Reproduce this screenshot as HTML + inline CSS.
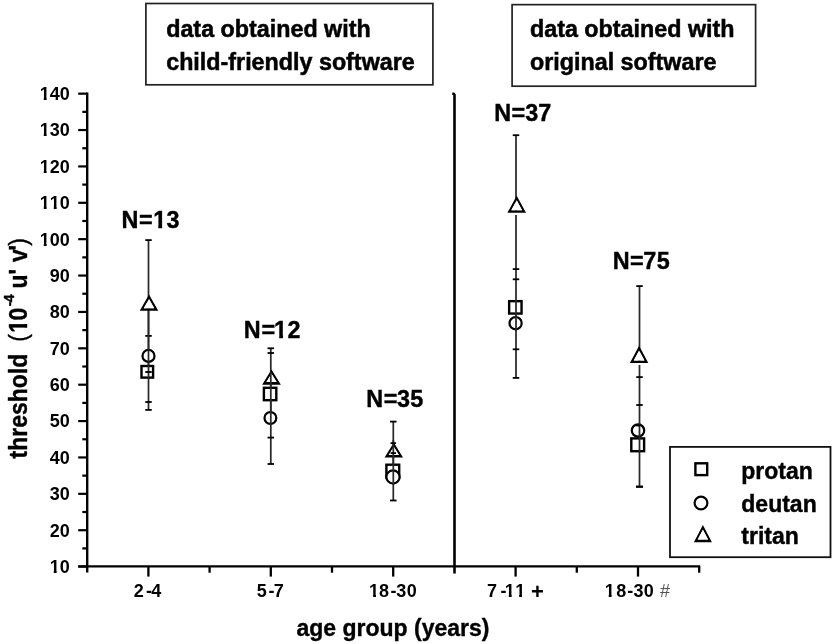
<!DOCTYPE html>
<html><head><meta charset="utf-8"><title>threshold by age group</title>
<style>
html,body{margin:0;padding:0;background:#fff;}
body{width:834px;height:644px;overflow:hidden;}
svg{display:block;}
text{font-family:"Liberation Sans",Arial,sans-serif;font-weight:bold;fill:#000;}
.tl{font-size:18px;}
.ttl{font-size:23px;stroke:#000;stroke-width:0.35px;}
.bx{font-size:23.3px;stroke:#000;stroke-width:0.5px;}
.nl{font-size:23.4px;stroke:#000;stroke-width:0.4px;}
.lg{font-size:23px;stroke:#000;stroke-width:0.4px;}
.sup{font-size:14px;}
.rg{font-weight:normal;}
.hash{font-weight:normal;fill:#555;}
</style></head>
<body>
<svg width="834" height="644" viewBox="0 0 834 644">
<defs><clipPath id="k1" clipPathUnits="userSpaceOnUse"><rect x="-2000" y="519.00" width="5000" height="52.00"/><rect x="53.78" y="555.00" width="2.87" height="27.00"/><rect x="60.25" y="570.16" width="9.06" height="13.64"/></clipPath><clipPath id="k2" clipPathUnits="userSpaceOnUse"><rect x="-2000" y="482.62" width="5000" height="51.38"/><rect x="50.15" y="533.78" width="9.17" height="13.64"/><rect x="60.25" y="533.78" width="9.06" height="13.64"/></clipPath><clipPath id="k3" clipPathUnits="userSpaceOnUse"><rect x="-2000" y="446.24" width="5000" height="51.76"/><rect x="49.94" y="497.40" width="9.45" height="13.64"/><rect x="60.25" y="497.40" width="9.06" height="13.64"/></clipPath><clipPath id="k4" clipPathUnits="userSpaceOnUse"><rect x="-2000" y="409.86" width="5000" height="52.14"/><rect x="49.80" y="461.02" width="10.14" height="13.64"/><rect x="60.25" y="461.02" width="9.06" height="13.64"/></clipPath><clipPath id="k5" clipPathUnits="userSpaceOnUse"><rect x="-2000" y="373.48" width="5000" height="51.52"/><rect x="50.08" y="424.64" width="9.46" height="13.64"/><rect x="60.25" y="424.64" width="9.06" height="13.64"/></clipPath><clipPath id="k6" clipPathUnits="userSpaceOnUse"><rect x="-2000" y="337.10" width="5000" height="51.90"/><rect x="50.19" y="388.26" width="9.20" height="13.64"/><rect x="60.25" y="388.26" width="9.06" height="13.64"/></clipPath><clipPath id="k7" clipPathUnits="userSpaceOnUse"><rect x="-2000" y="300.72" width="5000" height="51.28"/><rect x="50.30" y="351.88" width="8.95" height="13.64"/><rect x="60.25" y="351.88" width="9.06" height="13.64"/></clipPath><clipPath id="k8" clipPathUnits="userSpaceOnUse"><rect x="-2000" y="264.34" width="5000" height="51.66"/><rect x="50.10" y="315.50" width="9.39" height="13.64"/><rect x="60.25" y="315.50" width="9.06" height="13.64"/></clipPath><clipPath id="k9" clipPathUnits="userSpaceOnUse"><rect x="-2000" y="227.96" width="5000" height="52.04"/><rect x="50.15" y="279.12" width="9.22" height="13.64"/><rect x="60.25" y="279.12" width="9.06" height="13.64"/></clipPath><clipPath id="k10" clipPathUnits="userSpaceOnUse"><rect x="-2000" y="191.58" width="5000" height="51.42"/><rect x="43.77" y="227.58" width="2.87" height="27.00"/><rect x="50.24" y="242.74" width="9.06" height="13.64"/><rect x="60.25" y="242.74" width="9.06" height="13.64"/></clipPath><clipPath id="k11" clipPathUnits="userSpaceOnUse"><rect x="-2000" y="155.20" width="5000" height="51.80"/><rect x="43.77" y="191.20" width="2.87" height="27.00"/><rect x="53.78" y="191.20" width="2.87" height="27.00"/><rect x="60.25" y="206.36" width="9.06" height="13.64"/></clipPath><clipPath id="k12" clipPathUnits="userSpaceOnUse"><rect x="-2000" y="118.82" width="5000" height="51.18"/><rect x="43.77" y="154.82" width="2.87" height="27.00"/><rect x="50.15" y="169.98" width="9.17" height="13.64"/><rect x="60.25" y="169.98" width="9.06" height="13.64"/></clipPath><clipPath id="k13" clipPathUnits="userSpaceOnUse"><rect x="-2000" y="82.44" width="5000" height="51.56"/><rect x="43.77" y="118.44" width="2.87" height="27.00"/><rect x="49.94" y="133.60" width="9.45" height="13.64"/><rect x="60.25" y="133.60" width="9.06" height="13.64"/></clipPath><clipPath id="k14" clipPathUnits="userSpaceOnUse"><rect x="-2000" y="46.06" width="5000" height="51.94"/><rect x="43.77" y="82.06" width="2.87" height="27.00"/><rect x="49.80" y="97.22" width="10.14" height="13.64"/><rect x="60.25" y="97.22" width="9.06" height="13.64"/></clipPath><clipPath id="k15" clipPathUnits="userSpaceOnUse"><rect x="-2000" y="543.40" width="5000" height="51.60"/><rect x="373.10" y="579.40" width="2.87" height="27.00"/><rect x="379.31" y="594.56" width="9.39" height="13.64"/><rect x="390.86" y="594.56" width="5.07" height="13.64"/><rect x="396.33" y="594.56" width="9.45" height="13.64"/><rect x="407.27" y="594.56" width="9.06" height="13.64"/></clipPath><clipPath id="k16" clipPathUnits="userSpaceOnUse"><rect x="-2000" y="543.40" width="5000" height="51.60"/><rect x="487.63" y="594.56" width="8.95" height="13.64"/><rect x="500.86" y="594.56" width="5.07" height="13.64"/><rect x="508.80" y="579.40" width="2.87" height="27.00"/><rect x="519.15" y="579.40" width="2.87" height="27.00"/></clipPath><clipPath id="k17" clipPathUnits="userSpaceOnUse"><rect x="-2000" y="543.40" width="5000" height="51.60"/><rect x="608.75" y="579.40" width="2.87" height="27.00"/><rect x="616.51" y="594.56" width="9.39" height="13.64"/><rect x="627.71" y="594.56" width="5.07" height="13.64"/><rect x="633.78" y="594.56" width="9.45" height="13.64"/><rect x="644.32" y="594.56" width="9.06" height="13.64"/></clipPath><clipPath id="k18" clipPathUnits="userSpaceOnUse"><rect x="-2000" y="-69.00" width="5000" height="66.09"/><rect x="117.65" y="-3.35" width="6.99" height="17.15"/><rect x="130.72" y="-23.00" width="3.76" height="34.50"/><rect x="138.78" y="-3.35" width="11.44" height="17.15"/><rect x="150.12" y="-60" width="200" height="80"/><rect x="-5" y="-60" width="117.76" height="80"/></clipPath><clipPath id="k19" clipPathUnits="userSpaceOnUse"><rect x="-2000" y="157.40" width="5000" height="67.60"/><rect x="122.77" y="224.21" width="14.26" height="17.43"/><rect x="139.73" y="224.21" width="12.23" height="17.43"/><rect x="158.33" y="204.20" width="3.81" height="35.10"/><rect x="166.88" y="224.21" width="12.13" height="17.43"/></clipPath><clipPath id="k20" clipPathUnits="userSpaceOnUse"><rect x="-2000" y="267.80" width="5000" height="67.20"/><rect x="245.17" y="334.61" width="14.26" height="17.43"/><rect x="262.13" y="334.61" width="12.23" height="17.43"/><rect x="279.23" y="314.60" width="3.81" height="35.10"/><rect x="288.07" y="334.61" width="11.77" height="17.43"/></clipPath></defs>
<rect width="834" height="644" fill="#fff"/>
<line x1="87.2" y1="92.4" x2="87.2" y2="572.5" stroke="#000" stroke-width="2.4"/>
<line x1="78.2" y1="566.60" x2="87.2" y2="566.60" stroke="#000" stroke-width="2.2"/>
<text x="49.78 59.79" y="573.00" class="tl" clip-path="url(#k1)">10</text>
<line x1="82.3" y1="548.41" x2="87.2" y2="548.41" stroke="#000" stroke-width="2.2"/>
<line x1="78.2" y1="530.22" x2="87.2" y2="530.22" stroke="#000" stroke-width="2.2"/>
<text x="49.78 59.79" y="536.62" class="tl" clip-path="url(#k2)">20</text>
<line x1="82.3" y1="512.03" x2="87.2" y2="512.03" stroke="#000" stroke-width="2.2"/>
<line x1="78.2" y1="493.84" x2="87.2" y2="493.84" stroke="#000" stroke-width="2.2"/>
<text x="49.78 59.79" y="500.24" class="tl" clip-path="url(#k3)">30</text>
<line x1="82.3" y1="475.65" x2="87.2" y2="475.65" stroke="#000" stroke-width="2.2"/>
<line x1="78.2" y1="457.46" x2="87.2" y2="457.46" stroke="#000" stroke-width="2.2"/>
<text x="49.78 59.79" y="463.86" class="tl" clip-path="url(#k4)">40</text>
<line x1="82.3" y1="439.27" x2="87.2" y2="439.27" stroke="#000" stroke-width="2.2"/>
<line x1="78.2" y1="421.08" x2="87.2" y2="421.08" stroke="#000" stroke-width="2.2"/>
<text x="49.78 59.79" y="427.48" class="tl" clip-path="url(#k5)">50</text>
<line x1="82.3" y1="402.89" x2="87.2" y2="402.89" stroke="#000" stroke-width="2.2"/>
<line x1="78.2" y1="384.70" x2="87.2" y2="384.70" stroke="#000" stroke-width="2.2"/>
<text x="49.78 59.79" y="391.10" class="tl" clip-path="url(#k6)">60</text>
<line x1="82.3" y1="366.51" x2="87.2" y2="366.51" stroke="#000" stroke-width="2.2"/>
<line x1="78.2" y1="348.32" x2="87.2" y2="348.32" stroke="#000" stroke-width="2.2"/>
<text x="49.78 59.79" y="354.72" class="tl" clip-path="url(#k7)">70</text>
<line x1="82.3" y1="330.13" x2="87.2" y2="330.13" stroke="#000" stroke-width="2.2"/>
<line x1="78.2" y1="311.94" x2="87.2" y2="311.94" stroke="#000" stroke-width="2.2"/>
<text x="49.78 59.79" y="318.34" class="tl" clip-path="url(#k8)">80</text>
<line x1="82.3" y1="293.75" x2="87.2" y2="293.75" stroke="#000" stroke-width="2.2"/>
<line x1="78.2" y1="275.56" x2="87.2" y2="275.56" stroke="#000" stroke-width="2.2"/>
<text x="49.78 59.79" y="281.96" class="tl" clip-path="url(#k9)">90</text>
<line x1="82.3" y1="257.37" x2="87.2" y2="257.37" stroke="#000" stroke-width="2.2"/>
<line x1="78.2" y1="239.18" x2="87.2" y2="239.18" stroke="#000" stroke-width="2.2"/>
<text x="39.77 49.78 59.79" y="245.58" class="tl" clip-path="url(#k10)">100</text>
<line x1="82.3" y1="220.99" x2="87.2" y2="220.99" stroke="#000" stroke-width="2.2"/>
<line x1="78.2" y1="202.80" x2="87.2" y2="202.80" stroke="#000" stroke-width="2.2"/>
<text x="39.77 49.78 59.79" y="209.20" class="tl" clip-path="url(#k11)">110</text>
<line x1="82.3" y1="184.61" x2="87.2" y2="184.61" stroke="#000" stroke-width="2.2"/>
<line x1="78.2" y1="166.42" x2="87.2" y2="166.42" stroke="#000" stroke-width="2.2"/>
<text x="39.77 49.78 59.79" y="172.82" class="tl" clip-path="url(#k12)">120</text>
<line x1="82.3" y1="148.23" x2="87.2" y2="148.23" stroke="#000" stroke-width="2.2"/>
<line x1="78.2" y1="130.04" x2="87.2" y2="130.04" stroke="#000" stroke-width="2.2"/>
<text x="39.77 49.78 59.79" y="136.44" class="tl" clip-path="url(#k13)">130</text>
<line x1="82.3" y1="111.85" x2="87.2" y2="111.85" stroke="#000" stroke-width="2.2"/>
<line x1="78.2" y1="93.66" x2="87.2" y2="93.66" stroke="#000" stroke-width="2.2"/>
<text x="39.77 49.78 59.79" y="100.06" class="tl" clip-path="url(#k14)">140</text>
<line x1="78.2" y1="566.4" x2="700.2" y2="566.4" stroke="#000" stroke-width="2.4"/>
<line x1="148.40" y1="566.4" x2="148.40" y2="576.6" stroke="#000" stroke-width="2.3"/>
<line x1="209.60" y1="566.4" x2="209.60" y2="572.7" stroke="#000" stroke-width="2.3"/>
<line x1="270.80" y1="566.4" x2="270.80" y2="576.6" stroke="#000" stroke-width="2.3"/>
<line x1="332.00" y1="566.4" x2="332.00" y2="572.7" stroke="#000" stroke-width="2.3"/>
<line x1="393.20" y1="566.4" x2="393.20" y2="576.6" stroke="#000" stroke-width="2.3"/>
<line x1="515.60" y1="566.4" x2="515.60" y2="576.6" stroke="#000" stroke-width="2.3"/>
<line x1="576.80" y1="566.4" x2="576.80" y2="572.7" stroke="#000" stroke-width="2.3"/>
<line x1="638.00" y1="566.4" x2="638.00" y2="576.6" stroke="#000" stroke-width="2.3"/>
<line x1="699.20" y1="566.4" x2="699.20" y2="572.7" stroke="#000" stroke-width="2.3"/>
<path d="M452.3 93.4 L453.8 93.8 L454.5 94.8 L454.5 573.6" fill="none" stroke="#000" stroke-width="2.6"/>
<text x="133.74 145.91 151.16" y="597.4" class="tl">2-4</text>
<text x="256.77 268.56 273.85" y="597.4" class="tl">5-7</text>
<text x="369.10 378.99 390.41 396.16 406.81" y="597.4" class="tl" clip-path="url(#k15)">18-30</text>
<text x="487.10 500.41 504.80 515.15" y="597.4" class="tl" clip-path="url(#k16)">7-11</text>
<text x="604.75 616.19 627.26 633.61 643.86" y="597.4" class="tl" clip-path="url(#k17)">18-30</text>
<text x="531.11" y="598.9" style="font-size:22px">+</text>
<text x="660.05" y="597.4" class="tl hash">#</text>
<text x="393" y="636.3" class="ttl" text-anchor="middle">age group (years)</text>
<g transform="translate(27.2 458.5) rotate(-90) scale(1 1.1)">
<text class="ttl" clip-path="url(#k18)"><tspan x="0" y="0">threshold </tspan><tspan class="rg" x="116.76" y="0">(</tspan><tspan x="125.65 138.12" y="0">10</tspan><tspan class="sup" x="152.18 156.34" y="-12.3">-4</tspan><tspan x="170.12 184.00" y="0">u&#39;</tspan><tspan x="196.61" y="0"> </tspan><tspan x="196.61 208.05" y="0">v&#39;</tspan><tspan class="rg" x="212.73" y="0">)</tspan></text>
</g>
<rect x="145.9" y="3.5" width="287" height="81.3" fill="none" stroke="#222" stroke-width="1.7"/>
<text x="166.2" y="36.6" class="bx">data obtained with</text>
<text x="166.2" y="69.9" class="bx">child-friendly software</text>
<rect x="512.1" y="4.65" width="243.5" height="81.55" fill="none" stroke="#222" stroke-width="1.7"/>
<text x="530" y="36.6" class="bx">data obtained with</text>
<text x="530" y="69.9" class="bx">original software</text>
<rect x="670" y="446.9" width="160.5" height="110.3" fill="#fff" stroke="#111" stroke-width="1.8"/>
<rect x="695.40" y="463.30" width="11.80" height="11.80" fill="#fff" stroke="#000" stroke-width="2.4"/>
<circle cx="701.00" cy="503.00" r="6.40" fill="#fff" stroke="#000" stroke-width="2.2"/>
<path d="M702.90 525.00 L711.90 542.20 L693.90 542.20 Z M702.90 529.75 L708.06 539.60 L697.74 539.60 Z" fill="#000" fill-rule="evenodd"/><path d="M702.90 529.75 L708.06 539.60 L697.74 539.60 Z" fill="#fff"/>
<text x="741.3" y="478.6" class="lg">protan</text>
<text x="741.3" y="511.7" class="lg">deutan</text>
<text x="741.3" y="544.2" class="lg">tritan</text>
<text x="121.46 139.01 153.16 166.60" y="227.6" class="nl" clip-path="url(#k19)">N=13</text>
<text x="243.86 261.41 274.06 287.51" y="338.0" class="nl" clip-path="url(#k20)">N=12</text>
<text x="366.26 383.81 396.95 410.21" y="406.7" class="nl">N=35</text>
<text x="494.26 511.61 525.15 538.25" y="120.8" class="nl">N=37</text>
<text x="612.81 630.01 643.20 656.81" y="268.7" class="nl">N=75</text>
<line x1="148.50" y1="240.10" x2="148.50" y2="409.90" stroke="#2a2a2a" stroke-width="1.75"/>
<line x1="145.25" y1="240.10" x2="151.75" y2="240.10" stroke="#000" stroke-width="1.8"/>
<line x1="145.25" y1="335.90" x2="151.75" y2="335.90" stroke="#000" stroke-width="1.8"/>
<line x1="145.25" y1="402.00" x2="151.75" y2="402.00" stroke="#000" stroke-width="1.8"/>
<line x1="145.25" y1="409.90" x2="151.75" y2="409.90" stroke="#000" stroke-width="1.8"/>
<rect x="141.50" y="366.00" width="11.60" height="11.60" fill="#fff" stroke="#000" stroke-width="2.4"/>
<circle cx="148.50" cy="355.90" r="6.00" fill="#fff" stroke="#000" stroke-width="2.2"/>
<line x1="148.50" y1="300.00" x2="148.50" y2="379.00" stroke="#2a2a2a" stroke-width="1.75"/>
<line x1="145.20" y1="372.00" x2="151.80" y2="372.00" stroke="#000" stroke-width="1.8"/>
<path d="M149.00 294.40 L158.25 310.80 L139.75 310.80 Z M149.00 298.88 L154.26 308.20 L143.74 308.20 Z" fill="#000" fill-rule="evenodd"/><path d="M149.00 298.88 L154.26 308.20 L143.74 308.20 Z" fill="#fff"/>
<line x1="270.80" y1="348.30" x2="270.80" y2="464.00" stroke="#2a2a2a" stroke-width="1.75"/>
<line x1="267.55" y1="348.30" x2="274.05" y2="348.30" stroke="#000" stroke-width="1.8"/>
<line x1="267.55" y1="353.00" x2="274.05" y2="353.00" stroke="#000" stroke-width="1.8"/>
<line x1="267.55" y1="437.60" x2="274.05" y2="437.60" stroke="#000" stroke-width="1.8"/>
<line x1="267.55" y1="464.00" x2="274.05" y2="464.00" stroke="#000" stroke-width="1.8"/>
<rect x="263.90" y="387.80" width="12.40" height="12.40" fill="#fff" stroke="#000" stroke-width="2.4"/>
<circle cx="270.40" cy="418.00" r="5.90" fill="#fff" stroke="#000" stroke-width="2.2"/>
<path d="M271.50 369.60 L280.85 384.70 L262.15 384.70 Z M271.50 373.78 L276.65 382.10 L266.35 382.10 Z" fill="#000" fill-rule="evenodd"/><path d="M271.50 373.78 L276.65 382.10 L266.35 382.10 Z" fill="#fff"/>
<line x1="270.80" y1="372.00" x2="270.80" y2="425.00" stroke="#2a2a2a" stroke-width="1.75"/>
<line x1="393.30" y1="421.60" x2="393.30" y2="500.50" stroke="#2a2a2a" stroke-width="1.75"/>
<line x1="390.05" y1="421.60" x2="396.55" y2="421.60" stroke="#000" stroke-width="1.8"/>
<line x1="390.05" y1="500.50" x2="396.55" y2="500.50" stroke="#000" stroke-width="1.8"/>
<rect x="386.40" y="464.70" width="12.80" height="12.80" fill="#fff" stroke="#000" stroke-width="2.4"/>
<circle cx="393.00" cy="476.90" r="6.60" fill="#fff" stroke="#000" stroke-width="2.2"/>
<path d="M393.80 442.50 L403.00 457.60 L384.60 457.60 Z M393.80 446.73 L398.84 455.00 L388.76 455.00 Z" fill="#000" fill-rule="evenodd"/><path d="M393.80 446.73 L398.84 455.00 L388.76 455.00 Z" fill="#fff"/>
<line x1="393.30" y1="440.00" x2="393.30" y2="485.00" stroke="#2a2a2a" stroke-width="1.75"/>
<line x1="390.55" y1="443.10" x2="396.05" y2="443.10" stroke="#000" stroke-width="1.8"/>
<line x1="390.55" y1="453.10" x2="396.05" y2="453.10" stroke="#000" stroke-width="1.8"/>
<line x1="516.00" y1="135.20" x2="516.00" y2="377.90" stroke="#2a2a2a" stroke-width="1.75"/>
<line x1="512.75" y1="135.20" x2="519.25" y2="135.20" stroke="#000" stroke-width="1.8"/>
<line x1="512.75" y1="269.10" x2="519.25" y2="269.10" stroke="#000" stroke-width="1.8"/>
<line x1="512.75" y1="279.30" x2="519.25" y2="279.30" stroke="#000" stroke-width="1.8"/>
<line x1="512.75" y1="349.30" x2="519.25" y2="349.30" stroke="#000" stroke-width="1.8"/>
<line x1="512.75" y1="377.90" x2="519.25" y2="377.90" stroke="#000" stroke-width="1.8"/>
<rect x="509.15" y="301.15" width="12.40" height="12.40" fill="#fff" stroke="#000" stroke-width="2.4"/>
<circle cx="515.60" cy="323.20" r="6.10" fill="#fff" stroke="#000" stroke-width="2.2"/>
<line x1="516.00" y1="300.00" x2="516.00" y2="331.00" stroke="#2a2a2a" stroke-width="1.75"/>
<rect x="513.0" y="212" width="6" height="3" fill="#fff"/>
<path d="M516.70 195.70 L526.00 212.80 L507.40 212.80 Z M516.70 200.30 L522.08 210.20 L511.32 210.20 Z" fill="#000" fill-rule="evenodd"/><path d="M516.70 200.30 L522.08 210.20 L511.32 210.20 Z" fill="#fff"/>
<line x1="639.50" y1="286.10" x2="639.50" y2="486.70" stroke="#2a2a2a" stroke-width="1.75"/>
<line x1="636.25" y1="286.10" x2="642.75" y2="286.10" stroke="#000" stroke-width="1.8"/>
<line x1="636.25" y1="377.10" x2="642.75" y2="377.10" stroke="#000" stroke-width="1.8"/>
<line x1="636.25" y1="405.00" x2="642.75" y2="405.00" stroke="#000" stroke-width="1.8"/>
<line x1="636.00" y1="486.70" x2="643.00" y2="486.70" stroke="#000" stroke-width="2.4"/>
<circle cx="638.00" cy="430.50" r="6.20" fill="#fff" stroke="#000" stroke-width="2.2"/>
<rect x="631.30" y="438.40" width="12.80" height="12.80" fill="#fff" stroke="#000" stroke-width="2.4"/>
<line x1="639.50" y1="423.00" x2="639.50" y2="452.00" stroke="#2a2a2a" stroke-width="1.75"/>
<line x1="635.75" y1="425.50" x2="640.25" y2="425.50" stroke="#000" stroke-width="1.8"/>
<rect x="636.5" y="362" width="6" height="3" fill="#fff"/>
<path d="M639.10 345.70 L648.30 363.10 L629.90 363.10 Z M639.10 350.41 L644.44 360.50 L633.76 360.50 Z" fill="#000" fill-rule="evenodd"/><path d="M639.10 350.41 L644.44 360.50 L633.76 360.50 Z" fill="#fff"/>
</svg>
</body></html>
